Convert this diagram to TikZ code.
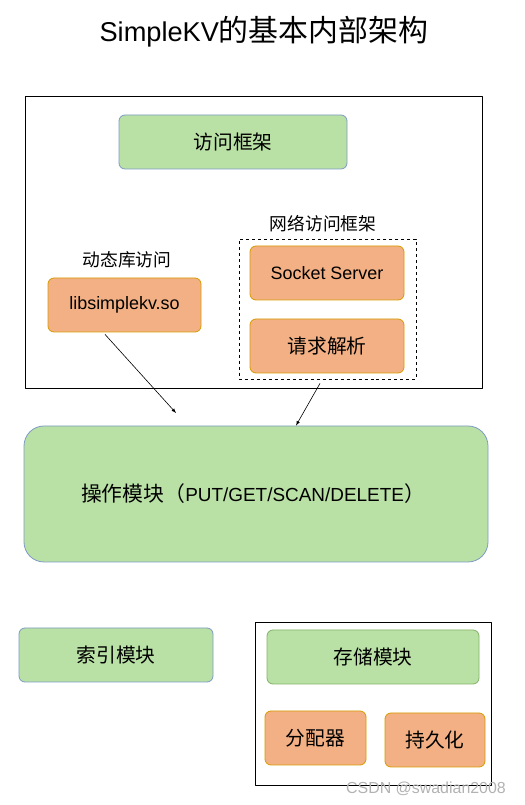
\documentclass[tikz,border=0pt]{standalone}
\usepackage{fontspec}
\setmainfont{Liberation Sans}
\newfontfamily\cjk[Scale=1.1]{Noto Sans CJK SC}
\definecolor{boxgreen}{HTML}{B9E0A5}
\definecolor{boxorange}{HTML}{F2B084}
\definecolor{lineblue}{HTML}{7D9BC4}
\definecolor{linegreen}{HTML}{82B366}
\definecolor{lineorange}{HTML}{D79B00}
\tikzset{
  greenbox/.style={draw=lineblue,fill=boxgreen,rounded corners=6bp,inner sep=0pt,font=\fontsize{18}{20}\selectfont},
  orangebox/.style={draw=lineorange,fill=boxorange,rounded corners=6bp,inner sep=0pt,font=\fontsize{18}{20}\selectfont},
  framebox/.style={draw=black,inner sep=0pt},
  plainlabel/.style={inner sep=0pt,font=\fontsize{16.2}{18}\selectfont},
}
\begin{document}
\begin{tikzpicture}[>=latex,line join=bevel,line width=0.8bp]
\useasboundingbox (0bp,0bp) rectangle (525bp,805bp);
%%
\node (node_title) at (264bp,773bp) [inner sep=0pt,font=\fontsize{27.3}{30}\selectfont] {SimpleKV{\cjk 的基本内部架构}};
  \node (node_outer) at (253.5bp,563bp) [framebox,minimum width=457bp,minimum height=292bp] {};
  \node (node_access) at (233bp,663bp) [greenbox,minimum width=228bp,minimum height=54bp] {\cjk 访问框架};
  \node (node_netlabel) at (323bp,581bp) [plainlabel] {\cjk 网络访问框架};
  \node (node_net) at (327.5bp,496bp) [framebox,dashed,minimum width=177bp,minimum height=140bp] {};
  \node (node_socket) at (327bp,532bp) [orangebox,minimum width=154bp,minimum height=54bp] {Socket Server};
  \node (node_parse) at (327bp,459bp) [orangebox,minimum width=154bp,minimum height=54bp] {\cjk 请求解析};
  \node (node_liblabel) at (127bp,545bp) [plainlabel] {\cjk 动态库访问};
  \node (node_lib) at (124.5bp,500bp) [orangebox,minimum width=153bp,minimum height=54bp] {libsimplekv.so};
  \node (node_op) at (256bp,311bp) [greenbox,rounded corners=20bp,minimum width=464bp,minimum height=136bp,font=\fontsize{19}{21}\selectfont] {\hspace*{-6bp}{\cjk 操作模块（}PUT/GET/SCAN/DELETE{\cjk ）}};
  \node (node_index) at (116bp,150bp) [greenbox,minimum width=194bp,minimum height=54bp] {\cjk 索引模块};
  \node (node_store) at (373bp,101.5bp) [framebox,minimum width=236bp,minimum height=163bp] {};
  \node (node_storage) at (373bp,148bp) [greenbox,draw=linegreen,minimum width=212bp,minimum height=54bp] {\cjk 存储模块};
  \node (node_alloc) at (315.5bp,67bp) [orangebox,minimum width=101bp,minimum height=54bp] {\cjk 分配器};
  \node (node_persist) at (435bp,65bp) [orangebox,minimum width=100bp,minimum height=54bp] {\cjk 持久化};
  \node (node_mark) at (426bp,16bp) [inner sep=0pt,text=black!30,font=\fontsize{16}{18}\selectfont] {CSDN @swadian2008};
  \coordinate (node_libend) at (176bp,392bp);
  \draw [black,->,line width=0.6bp] ([xshift=-19.5bp,yshift=-2bp]node_lib.south) -- (node_libend);
  \draw [black,->,line width=0.6bp] ([xshift=-7.5bp,yshift=-4bp]node_net.south) -- ([xshift=40bp]node_op.north);
%
\end{tikzpicture}
\end{document}
